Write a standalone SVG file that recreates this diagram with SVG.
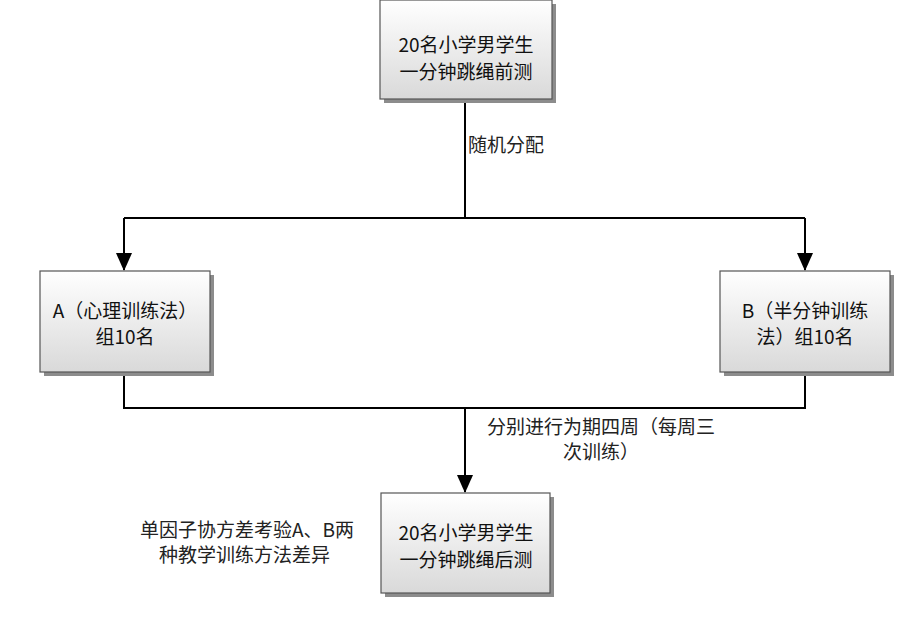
<svg xmlns="http://www.w3.org/2000/svg" width="906" height="625" viewBox="0 0 906 625">
<defs>
<linearGradient id="g" x1="0" y1="0" x2="0" y2="1">
<stop offset="0" stop-color="#ffffff"/>
<stop offset="1" stop-color="#d9d9d9"/>
</linearGradient>
<marker id="ar" markerWidth="18" markerHeight="16" refX="17" refY="8" orient="auto" markerUnits="userSpaceOnUse" viewBox="0 0 18 16">
<path d="M0,0 L18,8 L0,16 Z" fill="#000"/>
</marker>
<style>
.box{fill:url(#g);stroke:#555;stroke-width:1.2}
.sh{fill:#8c8c8c}
.t{font-family:"Noto Sans CJK SC","Liberation Sans",sans-serif;font-size:19px;fill:#111;text-anchor:middle}
.l{font-family:"Noto Sans CJK SC","Liberation Sans",sans-serif;font-size:19px;fill:#222}
.c{fill:none;stroke:#000;stroke-width:2}
</style>
</defs>
<rect width="906" height="625" fill="#fff"/>
<g id="connectors">
<path class="c" d="M465,99 V218"/>
<path class="c" d="M124,218 H805"/>
<path class="c" d="M124,218 V270" marker-end="url(#ar)"/>
<path class="c" d="M805,218 V270" marker-end="url(#ar)"/>
<path class="c" d="M124,372 V408 H805 V372"/>
<path class="c" d="M465,408 V492" marker-end="url(#ar)"/>
</g>
<g id="n1">
<rect class="sh" x="384" y="4" width="172" height="99"/>
<rect class="box" x="380" y="0" width="172" height="99"/>
<text class="t" x="466" y="52">20名小学男学生</text>
<text class="t" x="466" y="79">一分钟跳绳前测</text>
</g>
<g id="nA">
<rect class="sh" x="44" y="275" width="170" height="101"/>
<rect class="box" x="40" y="271" width="170" height="101"/>
<text class="t" x="125" y="318">A（心理训练法）</text>
<text class="t" x="125" y="344">组10名</text>
</g>
<g id="nB">
<rect class="sh" x="724" y="275" width="170" height="101"/>
<rect class="box" x="720" y="271" width="170" height="101"/>
<text class="t" x="805" y="318">B（半分钟训练</text>
<text class="t" x="805" y="344">法）组10名</text>
</g>
<g id="n4">
<rect class="sh" x="385" y="497" width="169" height="100"/>
<rect class="box" x="381" y="493" width="169" height="100"/>
<text class="t" x="466" y="540">20名小学男学生</text>
<text class="t" x="466" y="567">一分钟跳绳后测</text>
</g>
<g id="labels">
<text class="l" x="468" y="152">随机分配</text>
<text class="l" x="487" y="434">分别进行为期四周（每周三</text>
<text class="l" x="563" y="459">次训练）</text>
<text class="l" x="140" y="537">单因子协方差考验A、B两</text>
<text class="l" x="159" y="562">种教学训练方法差异</text>
</g>
</svg>
